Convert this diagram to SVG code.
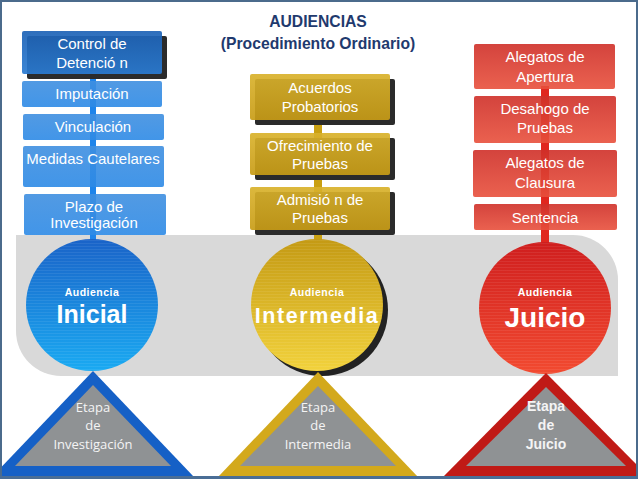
<svg xmlns="http://www.w3.org/2000/svg" width="638" height="479" viewBox="0 0 638 479">
<defs>
<style>
.bt{font-family:"Liberation Sans",Arial,sans-serif;font-size:15px;fill:#fff;text-anchor:middle}
.title{font-family:"Liberation Sans",Arial,sans-serif;font-size:15.7px;font-weight:bold;fill:#1f3a6e;text-anchor:middle}
.aud{font-family:"Liberation Sans",Arial,sans-serif;font-size:10.5px;font-weight:bold;fill:#fff;text-anchor:middle;letter-spacing:0.5px}
.big{font-family:"Liberation Sans",Arial,sans-serif;font-weight:bold;fill:#fff;text-anchor:middle}
.tri{font-family:"Open Sans","Liberation Sans",sans-serif;font-size:13px;fill:#f4f4f4;text-anchor:middle}
.trib{font-family:"Liberation Sans",Arial,sans-serif;font-size:14px;font-weight:bold;fill:#f4f4f4;text-anchor:middle}
.shadow{fill:#2b2b2b}
</style>
<linearGradient id="gBlueBox" x1="0" y1="0" x2="0" y2="1"><stop offset="0" stop-color="#3f8fe0"/><stop offset="1" stop-color="#2d8ae6"/></linearGradient>
<linearGradient id="gBlueDark" x1="0" y1="0" x2="0" y2="1"><stop offset="0" stop-color="#1d62b6"/><stop offset="1" stop-color="#2a7bd2"/></linearGradient>
<linearGradient id="gGoldBox" x1="0" y1="0" x2="0" y2="1"><stop offset="0" stop-color="#d9b22c"/><stop offset="1" stop-color="#c89c16"/></linearGradient>
<linearGradient id="gRedBox" x1="0" y1="0" x2="0" y2="1"><stop offset="0" stop-color="#cf2f28"/><stop offset="1" stop-color="#e8503c"/></linearGradient>
<linearGradient id="gBlueC" x1="0" y1="0" x2="0" y2="1"><stop offset="0" stop-color="#1a63c8"/><stop offset="1" stop-color="#1aaaf2"/></linearGradient>
<linearGradient id="gGoldC" x1="0" y1="0" x2="0" y2="1"><stop offset="0" stop-color="#c49a14"/><stop offset="1" stop-color="#f2d23c"/></linearGradient>
<linearGradient id="gRedC" x1="0" y1="0" x2="0" y2="1"><stop offset="0" stop-color="#cf1e1e"/><stop offset="1" stop-color="#f24a30"/></linearGradient>
<pattern id="stripes" width="4" height="3" patternUnits="userSpaceOnUse"><rect width="4" height="1" fill="#fff" fill-opacity="0.07"/></pattern>
</defs>

<rect x="0" y="0" width="638" height="479" fill="#fff"/>

<!-- gray band -->
<path d="M16 235 H573 A45 45 0 0 1 618 280 V376 H61 A45 45 0 0 1 16 331 Z" fill="#d9d9d9"/>

<text class="title" x="318" y="27">AUDIENCIAS</text>
<text class="title" x="318" y="49">(Procedimiento Ordinario)</text>

<!-- connectors -->
<g id="connectors">
<line x1="93" y1="74" x2="93" y2="245" stroke="#1e84ea" stroke-width="6"/>
<line x1="318" y1="118" x2="318" y2="245" stroke="#c9a012" stroke-width="8"/>
<line x1="545" y1="86" x2="545" y2="245" stroke="#e0271f" stroke-width="8"/>
</g>

<!-- blue column -->
<g id="control-detencion">
<rect class="shadow" x="27" y="36" width="140" height="43" rx="2"/>
<rect x="22" y="31" width="140" height="43" rx="2" fill="url(#gBlueDark)" fill-opacity="0.92"/>
<text class="bt" x="92" y="49">Control de</text>
<text class="bt" x="92" y="68">Detenció n</text>
</g>
<g id="imputacion">
<rect x="22" y="81" width="140" height="26" rx="2" fill="url(#gBlueBox)" fill-opacity="0.9"/>
<text class="bt" x="92" y="99">Imputación</text>
</g>
<g id="vinculacion">
<rect x="23" y="114" width="141" height="26" rx="2" fill="url(#gBlueBox)" fill-opacity="0.9"/>
<text class="bt" x="93" y="132">Vinculación</text>
</g>
<g id="medidas-cautelares">
<rect x="23" y="146" width="141" height="41" rx="2" fill="url(#gBlueBox)" fill-opacity="0.9"/>
<text class="bt" x="93" y="164">Medidas Cautelares</text>
</g>
<g id="plazo-investigacion">
<rect x="24" y="194" width="142" height="41" rx="2" fill="url(#gBlueBox)" fill-opacity="0.9"/>
<text class="bt" x="94" y="212">Plazo de</text>
<text class="bt" x="94" y="228">Investigación</text>
</g>

<!-- gold column -->
<g id="acuerdos-probatorios">
<rect class="shadow" x="255" y="79" width="140" height="46" rx="2"/>
<rect x="250" y="74" width="140" height="46" rx="2" fill="url(#gGoldBox)" fill-opacity="0.92"/>
<text class="bt" x="320" y="93">Acuerdos</text>
<text class="bt" x="320" y="112">Probatorios</text>
</g>
<g id="ofrecimiento-pruebas">
<rect class="shadow" x="255" y="138" width="140" height="42" rx="2"/>
<rect x="250" y="133" width="140" height="42" rx="2" fill="url(#gGoldBox)" fill-opacity="0.92"/>
<text class="bt" x="320" y="151">Ofrecimiento de</text>
<text class="bt" x="320" y="169">Pruebas</text>
</g>
<g id="admision-pruebas">
<rect class="shadow" x="255" y="192" width="140" height="43" rx="2"/>
<rect x="250" y="187" width="140" height="43" rx="2" fill="url(#gGoldBox)" fill-opacity="0.92"/>
<text class="bt" x="320" y="205">Admisió n de</text>
<text class="bt" x="320" y="223">Pruebas</text>
</g>

<!-- red column -->
<g id="alegatos-apertura">
<rect x="474" y="44" width="141" height="45" rx="2" fill="url(#gRedBox)" fill-opacity="0.9"/>
<text class="bt" x="545" y="62">Alegatos de</text>
<text class="bt" x="545" y="82">Apertura</text>
</g>
<g id="desahogo-pruebas">
<rect x="474" y="96" width="142" height="47" rx="2" fill="url(#gRedBox)" fill-opacity="0.9"/>
<text class="bt" x="545" y="114">Desahogo de</text>
<text class="bt" x="545" y="133">Pruebas</text>
</g>
<g id="alegatos-clausura">
<rect x="473" y="150" width="144" height="47" rx="2" fill="url(#gRedBox)" fill-opacity="0.9"/>
<text class="bt" x="545" y="168">Alegatos de</text>
<text class="bt" x="545" y="188">Clausura</text>
</g>
<g id="sentencia">
<rect x="474" y="204" width="143" height="26" rx="2" fill="url(#gRedBox)" fill-opacity="0.9"/>
<text class="bt" x="545" y="223">Sentencia</text>
</g>

<!-- circles -->
<g id="audiencia-inicial">
<circle cx="92" cy="305" r="66" fill="url(#gBlueC)"/>
<circle cx="92" cy="305" r="66" fill="url(#stripes)"/>
<text class="aud" x="92" y="296">Audiencia</text>
<text class="big" x="92" y="323" font-size="25">Inicial</text>
</g>
<g id="audiencia-intermedia">
<circle cx="322" cy="310" r="66" fill="#222"/>
<circle cx="317" cy="305" r="66" fill="url(#gGoldC)"/>
<circle cx="317" cy="305" r="66" fill="url(#stripes)"/>
<text class="aud" x="317" y="296">Audiencia</text>
<text class="big" x="317" y="323" font-size="21.5" letter-spacing="1.6">Intermedia</text>
</g>
<g id="audiencia-juicio">
<circle cx="545" cy="308" r="66" fill="url(#gRedC)"/>
<circle cx="545" cy="308" r="66" fill="url(#stripes)"/>
<text class="aud" x="545" y="296">Audiencia</text>
<text class="big" x="545" y="327" font-size="28">Juicio</text>
</g>

<!-- triangles -->
<g id="etapa-investigacion">
<polygon points="93,371 -8,477 194,477" fill="#1560c6"/>
<polygon points="93,385 15,466 171,466" fill="#8f9294"/>
<text class="tri" x="93" y="412">Etapa</text>
<text class="tri" x="93" y="430">de</text>
<text class="tri" x="93" y="449">Investigación</text>
</g>
<g id="etapa-intermedia">
<polygon points="318,372 218,477 418,477" fill="#d3a91c"/>
<polygon points="318,386 240,466 396,466" fill="#8f9294"/>
<text class="tri" x="318" y="412">Etapa</text>
<text class="tri" x="318" y="430">de</text>
<text class="tri" x="318" y="449">Intermedia</text>
</g>
<g id="etapa-juicio">
<polygon points="546,373 443,477 649,477" fill="#c01a16"/>
<polygon points="546,387 466,466 626,466" fill="#8f9294"/>
<text class="trib" x="546" y="411">Etapa</text>
<text class="trib" x="546" y="430">de</text>
<text class="trib" x="546" y="449">Juicio</text>
</g>

<!-- frame -->
<rect x="1" y="1" width="636" height="476" fill="none" stroke="#4b6b8c" stroke-width="2"/>
<rect x="0" y="476" width="638" height="3" fill="#4a6e96"/>
</svg>
